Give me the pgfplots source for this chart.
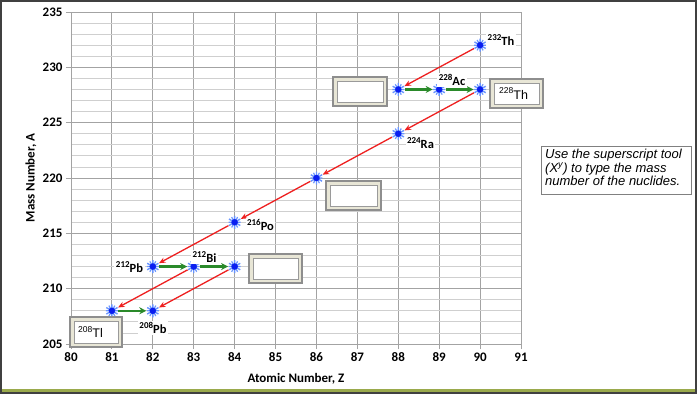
\documentclass[border=0pt]{standalone}
\usepackage{fontspec}
\setmainfont{Carlito}
\newfontfamily\arial{Liberation Sans}
\usepackage{pgfplots}
\pgfplotsset{compat=1.18}
\usetikzlibrary{arrows.meta}
\definecolor{gmaj}{HTML}{A3A3A3}
\definecolor{gmin}{HTML}{CFCFCF}
\definecolor{framegray}{HTML}{404040}
\definecolor{oliveline}{HTML}{9AAA4C}
\definecolor{boxgray}{HTML}{8E8E8E}
\definecolor{boxbeige}{HTML}{E8E6D6}
\definecolor{inngray}{HTML}{9A9A9A}
\definecolor{redarr}{HTML}{EE2020}
\definecolor{greenarr}{HTML}{2A8A2A}
\definecolor{markblue}{HTML}{0A1EF0}
\definecolor{glowblue}{HTML}{6A96FF}
\newcommand\nsup[1]{\raisebox{0.42em}{\fontsize{9}{9}\selectfont #1}}
\newcommand\asup[1]{\raisebox{0.45em}{\fontsize{8.5}{8.5}\selectfont #1}}
\newcommand\bevbox[4]{%
 \draw[draw=boxgray,line width=1.3pt,fill=boxbeige] ({#1*1pt},{(394-#2)*1pt}) rectangle ({#3*1pt},{(394-#4)*1pt});
 \draw[draw=inngray,line width=0.6pt,fill=white] ({(#1+4)*1pt},{(394-#2-4)*1pt}) rectangle ({(#3-4)*1pt},{(394-#4+4)*1pt});}
\tikzset{lab/.style={fill=white,inner sep=1.5pt,font=\fontsize{12.5}{12.5}\selectfont\bfseries}}
\pgfplotsset{
 redA/.style={draw=redarr,line width=1.3pt,-{Stealth[length=6.5pt,width=5.5pt]},shorten <=7pt,shorten >=7pt},
 grnB/.style={draw=greenarr,line width=2.2pt,-{Stealth[length=7pt,width=7pt]},shorten <=6.5pt,shorten >=6.5pt}
}
\begin{document}
\begin{tikzpicture}
\useasboundingbox (0pt,0pt) rectangle (697pt,394pt);
\fill[white] (0pt,0pt) rectangle (697pt,394pt);
\begin{axis}[
 at={(71pt,50pt)}, anchor=south west, scale only axis,
 width=450pt, height=332pt,
 xmin=80, xmax=91, ymin=205, ymax=235,
 xtick={80,...,91}, ytick={205,210,...,235},
 minor y tick num=4,
 grid=both,
 major grid style={draw=gmaj,line width=0.9pt},
 minor grid style={draw=gmin,line width=0.8pt},
 axis line style={draw=gmaj,line width=0.9pt},
 tick style={draw=gmaj,line width=0.9pt},
 tick pos=left, tick align=outside,
 major tick length=5pt, minor tick length=0pt,
 /pgf/number format/assume math mode=true,
 tick label style={font=\fontsize{13}{13}\selectfont\bfseries},
 xlabel={Atomic Number, Z}, ylabel={Mass Number, A},
 label style={font=\fontsize{13}{13}\selectfont\bfseries},
 xlabel style={at={(axis description cs:0.5,-0.1054)},anchor=center},
 ylabel style={at={(axis description cs:-0.0889,0.5)},anchor=center},
 clip=false,
]
% alpha decays (red)
\addplot[redA] coordinates {(90,232) (88,228)};
\addplot[redA] coordinates {(90,228) (88,224)};
\addplot[redA] coordinates {(88,224) (86,220)};
\addplot[redA] coordinates {(86,220) (84,216)};
\addplot[redA] coordinates {(84,216) (82,212)};
\addplot[redA] coordinates {(83,212) (81,208)};
\addplot[redA] coordinates {(84,212) (82,208)};
% beta decays (green)
\addplot[grnB] coordinates {(88,228) (89,228)};
\addplot[grnB] coordinates {(89,228) (90,228)};
\addplot[grnB] coordinates {(82,212) (83,212)};
\addplot[grnB] coordinates {(83,212) (84,212)};
\addplot[grnB] coordinates {(81,208) (82,208)};
% nuclides
\addplot[only marks,mark=asterisk,mark size=6.5pt,draw=glowblue,line width=1.4pt] coordinates {
 (81,208) (82,208) (82,212) (83,212) (84,212) (84,216) (86,220) (88,224) (88,228) (89,228) (90,228) (90,232)};
\addplot[only marks,mark=asterisk,mark size=6pt,draw=glowblue,line width=1.2pt,mark options={rotate=90}] coordinates {
 (81,208) (82,208) (82,212) (83,212) (84,212) (84,216) (86,220) (88,224) (88,228) (89,228) (90,228) (90,232)};
\addplot[only marks,mark=*,mark size=3pt,draw=markblue,fill=markblue] coordinates {
 (81,208) (82,208) (82,212) (83,212) (84,212) (84,216) (86,220) (88,224) (88,228) (89,228) (90,228) (90,232)};
\end{axis}
% nuclide labels
\node[lab] at (501pt,354pt) {\nsup{232}Th};
\node[lab] at (452pt,314pt) {\nsup{228}Ac};
\node[lab] at (420.5pt,251pt) {\nsup{224}Ra};
\node[lab] at (260.5pt,169pt) {\nsup{216}Po};
\node[lab] at (129.5pt,127pt) {\nsup{212}Pb};
\node[lab] at (204.5pt,137pt) {\nsup{212}Bi};
\node[lab] at (153pt,66pt) {\nsup{208}Pb};
% answer boxes
\bevbox{333}{77}{387}{106}
\bevbox{490}{79}{543}{108}
\bevbox{326}{181}{381}{210}
\bevbox{249}{254}{302}{283}
\bevbox{70}{317}{122}{347}
\node[anchor=west,inner sep=0pt,font=\arial\fontsize{12.5}{12.5}\selectfont] at (499pt,300.5pt) {\asup{228}Th};
\node[anchor=west,inner sep=0pt,font=\arial\fontsize{12.5}{12.5}\selectfont] at (78pt,62pt) {\asup{208}Tl};
% instruction box
\draw[draw=gray,line width=0.8pt,fill=white] (541.5pt,200pt) rectangle (691pt,248pt);
\node[anchor=north west,align=left,inner sep=0pt,font=\arial\itshape\fontsize{13}{13.5}\selectfont] at (545pt,245pt)
 {Use the superscript tool\\(X\textsuperscript{y}) to type the mass\\number of the nuclides.};
% frame
\draw[draw=framegray,line width=2pt] (1pt,1pt) rectangle (696pt,393pt);
\draw[draw=oliveline,line width=3pt] (2pt,3.5pt) -- (695pt,3.5pt);
\end{tikzpicture}
\end{document}
